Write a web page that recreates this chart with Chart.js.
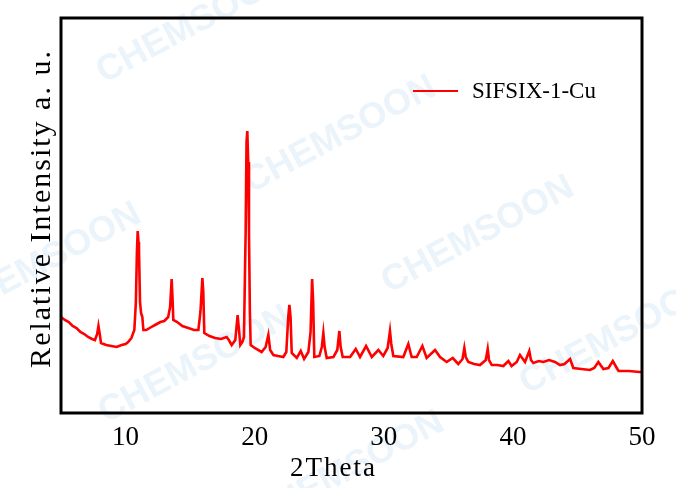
<!DOCTYPE html>
<html>
<head>
<meta charset="utf-8">
<script src="https://cdn.jsdelivr.net/npm/chart.js@4.4.1/dist/chart.umd.min.js"></script>
<style>
  html, body { margin: 0; padding: 0; background: #ffffff; }
  canvas { display: block; }
</style>
</head>
<body>
<canvas id="c" width="676" height="488"></canvas>
<script>
// ---- data ----
const seriesName = "SIFSIX-1-Cu";
const xTitle = "2Theta";
const yTitle = "Relative Intensity a. u.";
const xTickValues = [10, 20, 30, 40, 50];
const watermarkText = "CHEMSOON";

const twoTheta = [
  5.0, 5.3, 5.6, 5.9, 6.2, 6.5, 6.8, 7.1, 7.4, 7.63, 7.8, 7.9, 8.0, 8.1, 8.5, 8.9, 9.3, 9.7, 10.0, 10.2,
  10.45, 10.68, 10.8, 10.88, 10.94, 11.0, 11.04, 11.12, 11.2, 11.3, 11.38, 11.6, 12.0, 12.28, 12.7, 13.0, 13.3, 13.45, 13.57, 13.65,
  13.7, 14.0, 14.4, 14.86, 15.3, 15.64, 15.8, 15.95, 16.02, 16.1, 16.5, 16.93, 17.4, 17.83, 18.0, 18.22, 18.5, 18.68, 18.8, 18.89,
  19.05, 19.17, 19.3, 19.37, 19.43, 19.5, 19.56, 19.63, 19.69, 20.0, 20.54, 20.85, 21.06, 21.2, 21.45, 21.8, 22.22, 22.45, 22.6, 22.69,
  22.78, 22.87, 23.26, 23.57, 23.83, 24.16, 24.33, 24.45, 24.53, 24.62, 25.01, 25.2, 25.32, 25.42, 25.58, 26.1, 26.4, 26.56, 26.66, 26.82,
  27.39, 27.83, 28.16, 28.63, 29.07, 29.58, 29.96, 30.3, 30.48, 30.58, 30.74, 31.51, 31.9, 32.16, 32.55, 32.99, 33.32, 33.97, 34.36, 34.87,
  35.34, 35.77, 36.1, 36.24, 36.35, 36.55, 37.0, 37.45, 37.9, 38.05, 38.15, 38.36, 38.8, 39.26, 39.65, 39.9, 40.3, 40.55, 40.94, 41.27,
  41.4, 41.58, 42.0, 42.36, 42.8, 43.26, 43.65, 44.0, 44.43, 44.68, 45.3, 45.97, 46.3, 46.62, 47.01, 47.4, 47.74, 48.0, 48.18, 49.0,
  49.8, 50.0
];
const intensity = [
  95, 92, 90, 86, 84, 80, 78, 75, 73, 72, 78, 86, 78, 69, 67, 66, 65, 67, 68, 70,
  74, 82, 110, 160, 181, 170, 162, 110, 99, 95, 82, 82, 85, 87, 90, 91, 95, 105, 133, 110,
  92, 90, 86, 84, 82, 82, 100, 134, 120, 79, 76, 74, 73, 75, 72, 67, 72, 97, 80, 67,
  70, 75, 179, 270, 281, 250, 179, 100, 67, 64, 60, 65, 77, 62, 57, 56, 55, 60, 95, 107,
  95, 59, 54, 61, 53, 60, 80, 133, 110, 55, 56, 65, 79, 65, 54, 55, 62, 81, 65, 55,
  55, 63, 55, 66, 55, 62, 56, 64, 81, 68, 56, 55, 68, 55, 55, 66, 54, 62, 55, 50,
  54, 48, 53, 64, 55, 50, 48, 47, 52, 63, 52, 47, 47, 46, 51, 46, 50, 57, 50, 61,
  52, 49, 51, 50, 52, 50, 47, 48, 53, 44, 43, 42, 44, 50, 43, 44, 51, 45, 41, 41,
  40, 40
];

const points = twoTheta.map((x, i) => ({ x: x, y: intensity[i] }));

// title placement / spacing tweaks (style only)
const titleTweaks = {
  x: { dx: -18, dy: 0, spacing: '2px' },
  y: { dx: 0, dy: -7, spacing: '2px' }
};

const framePlugin = {
  id: 'frame',
  beforeDraw(chart) {
    const ctx = chart.ctx;
    // wrap axis-title drawing to add letter spacing and offsets
    Object.keys(titleTweaks).forEach(id => {
      const s = chart.scales[id];
      if (s && !s.__tw) {
        const orig = s.drawTitle;
        const t = titleTweaks[id];
        s.drawTitle = function () {
          const c = this.ctx;
          c.save();
          c.letterSpacing = t.spacing;
          c.translate(t.dx, t.dy);
          orig.call(this);
          c.restore();
        };
        s.__tw = true;
      }
    });
    ctx.save();
    ctx.fillStyle = '#ffffff';
    ctx.fillRect(0, 0, chart.width, chart.height);
    // faint watermark
    ctx.fillStyle = '#ebf4fa';
    ctx.font = 'bold 36px "Liberation Sans", Arial, sans-serif';
    ctx.textAlign = 'center';
    ctx.textBaseline = 'middle';
    const centers = [[193, 25], [340, 135], [478, 235], [616, 336], [45, 262], [195, 365], [348, 470]];
    centers.forEach(([cx, cy]) => {
      ctx.save();
      ctx.translate(cx, cy);
      ctx.rotate(-28 * Math.PI / 180);
      ctx.fillText(watermarkText, 0, 0);
      ctx.restore();
    });
    ctx.restore();
  },
  afterDraw(chart) {
    const ctx = chart.ctx;
    const a = chart.chartArea;
    ctx.save();
    ctx.strokeStyle = '#000000';
    ctx.lineWidth = 3;
    ctx.strokeRect(a.left, a.top, a.right - a.left, a.bottom - a.top);
    // legend
    const ds = chart.data.datasets[0];
    const ly = a.top + 73;
    const lx = a.left + 352;
    ctx.strokeStyle = ds.borderColor;
    ctx.lineWidth = 2;
    ctx.beginPath();
    ctx.moveTo(lx, ly);
    ctx.lineTo(lx + 45, ly);
    ctx.stroke();
    ctx.fillStyle = '#000000';
    ctx.font = '23px "Liberation Serif", "Times New Roman", serif';
    ctx.textAlign = 'left';
    ctx.textBaseline = 'middle';
    ctx.fillText(ds.label, lx + 59, ly + 1);
    ctx.restore();
  }
};

new Chart(document.getElementById('c'), {
  type: 'line',
  data: {
    datasets: [{
      label: seriesName,
      data: points,
      borderColor: '#ff0000',
      borderWidth: 2.6,
      pointRadius: 0,
      tension: 0,
      fill: false
    }]
  },
  options: {
    responsive: false,
    animation: false,
    devicePixelRatio: 1,
    layout: { padding: { top: 18, right: 34, left: 0, bottom: 0 } },
    plugins: {
      legend: { display: false },
      tooltip: { enabled: false }
    },
    scales: {
      x: {
        type: 'linear',
        min: 5,
        max: 50,
        afterFit(scale) { scale.height = 75; },
        afterBuildTicks(scale) { scale.ticks = xTickValues.map(v => ({ value: v })); },
        grid: { display: false },
        border: { display: false },
        ticks: {
          color: '#000000',
          padding: 1,
          maxRotation: 0,
          autoSkip: false,
          font: { family: '"Liberation Serif", "Times New Roman", serif', size: 27 }
        },
        title: {
          display: true,
          text: xTitle,
          color: '#000000',
          padding: { top: 0, bottom: 3 },
          font: { family: '"Liberation Serif", "Times New Roman", serif', size: 27 }
        }
      },
      y: {
        min: -1,
        max: 394,
        afterFit(scale) { scale.width = 61; },
        grid: { display: false },
        border: { display: false },
        ticks: { display: false },
        title: {
          display: true,
          text: yTitle,
          color: '#000000',
          padding: { top: 24, bottom: 0 },
          font: { family: '"Liberation Serif", "Times New Roman", serif', size: 30 }
        }
      }
    }
  },
  plugins: [framePlugin]
});
</script>
</body>
</html>
